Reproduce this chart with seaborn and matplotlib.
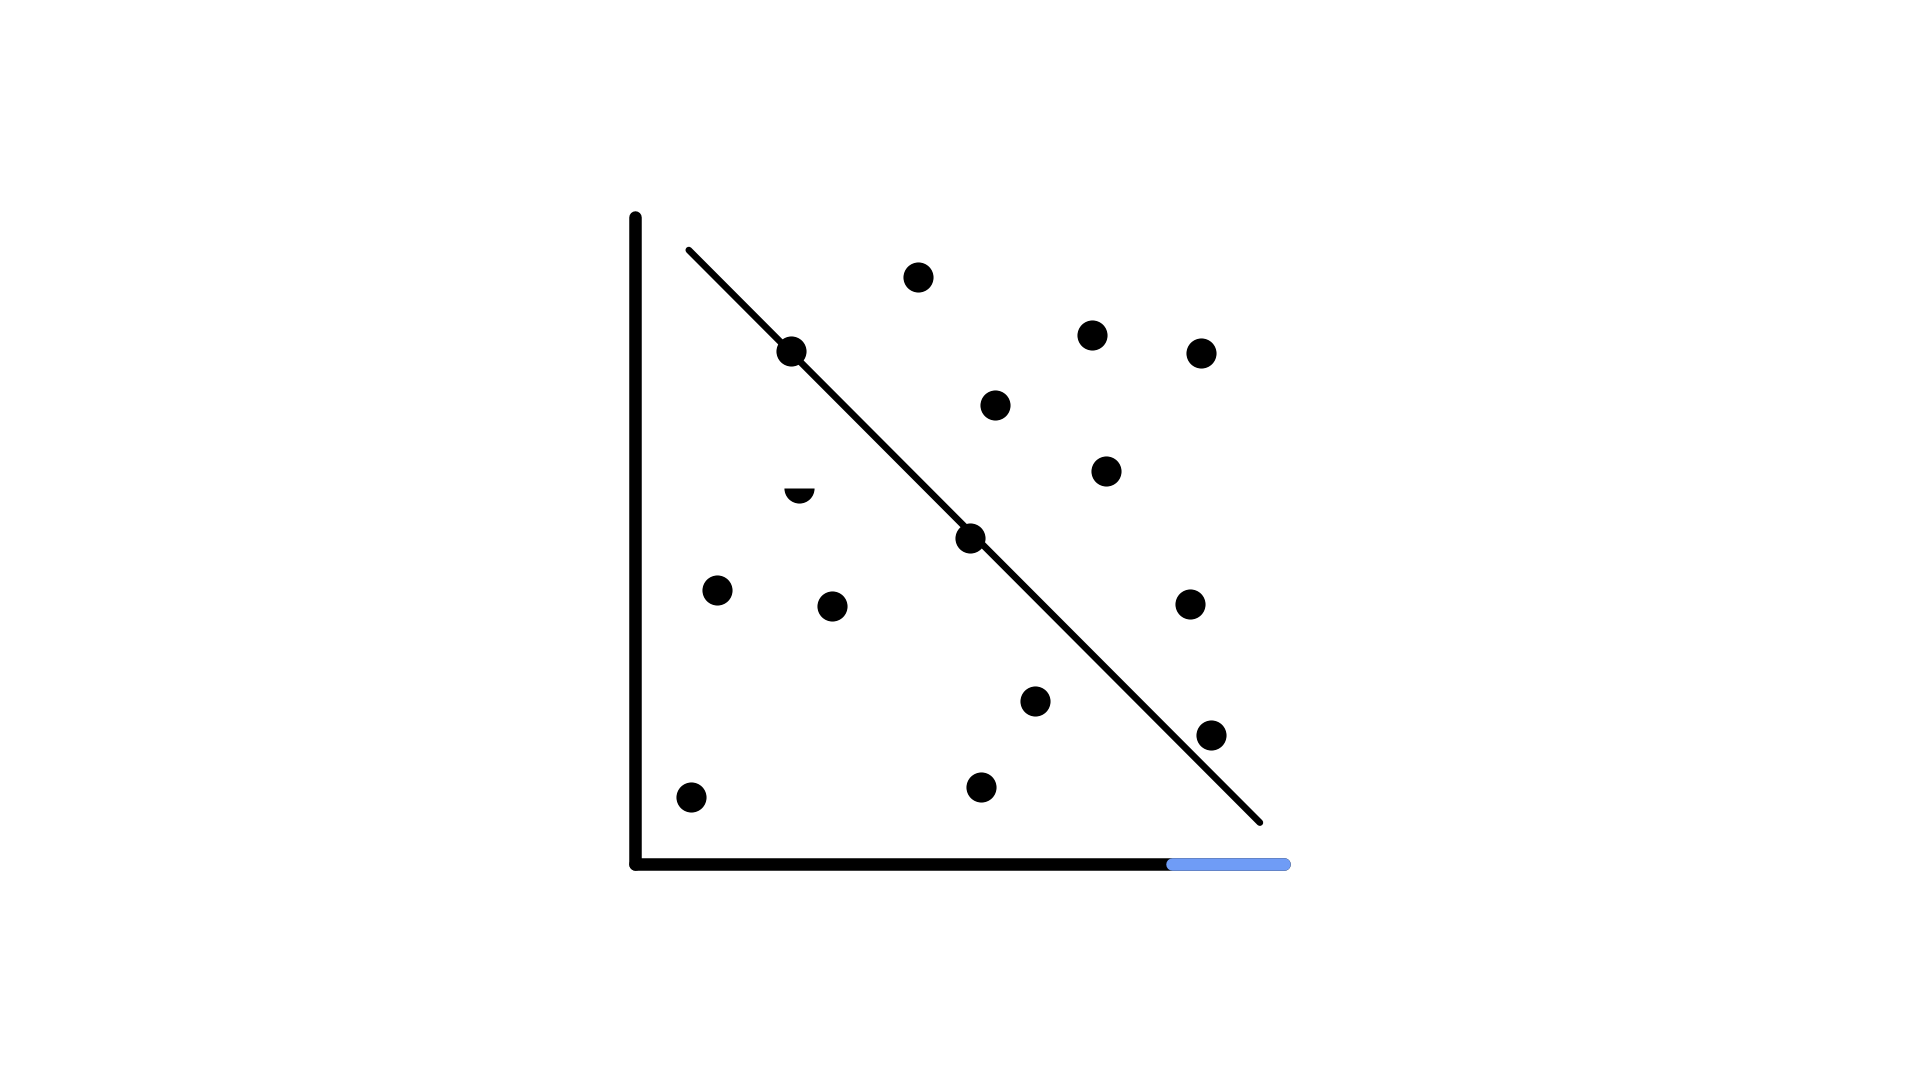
import matplotlib
matplotlib.use("Agg")
import matplotlib.pyplot as plt
import seaborn as sns
import pandas as pd

sns.set_theme(style="white")
plt.rcParams['font.family'] = ['DejaVu Sans']

# data
dot_x = [4.36, 7.05, 8.73, 2.40, 5.55, 7.26, 5.16, 1.27, 3.03, 8.55, 6.17, 8.87, 0.86, 5.34]
dot_y = [9.08, 8.18, 7.90, 7.93, 7.10, 6.08, 5.04, 4.24, 3.99, 4.02, 2.52, 1.99, 1.04, 1.19]
half_x = [2.53]
half_y = [5.81]
line_x = [0.83, 9.63]
line_y = [9.49, 0.64]
highlight_x = [8.28, 10.0]
highlight_y = [0.0, 0.0]

fig = plt.figure(figsize=(19.2, 10.8), dpi=100)
ax = fig.add_axes([0.3307, 0.2, 0.338, 0.599])

df = pd.DataFrame({"x": dot_x, "y": dot_y})
sns.lineplot(x=line_x, y=line_y, ax=ax, color="black", linewidth=4.8,
             solid_capstyle="round", zorder=2)
sns.scatterplot(data=df, x="x", y="y", ax=ax, s=470, color="black",
                linewidth=0, zorder=3)
ax.plot(half_x, half_y, marker="o", markersize=21.7, fillstyle="bottom",
        markerfacecolor="black", markerfacecoloralt="none",
        markeredgewidth=0, linestyle="none", zorder=3)

ax.set_xlim(0, 10)
ax.set_ylim(0, 10)
ax.set_xticks([])
ax.set_yticks([])
ax.set_xlabel("")
ax.set_ylabel("")

for side in ["top", "right"]:
    ax.spines[side].set_visible(False)
for side in ["left", "bottom"]:
    sp = ax.spines[side]
    sp.set_linewidth(9)
    sp.set_color("black")
    sp.set_capstyle("round")

ax.plot(highlight_x, highlight_y, color="#6f9cf6", linewidth=9,
        solid_capstyle="round", clip_on=False, zorder=5)

fig.savefig("out.png", dpi=100, facecolor="white")
